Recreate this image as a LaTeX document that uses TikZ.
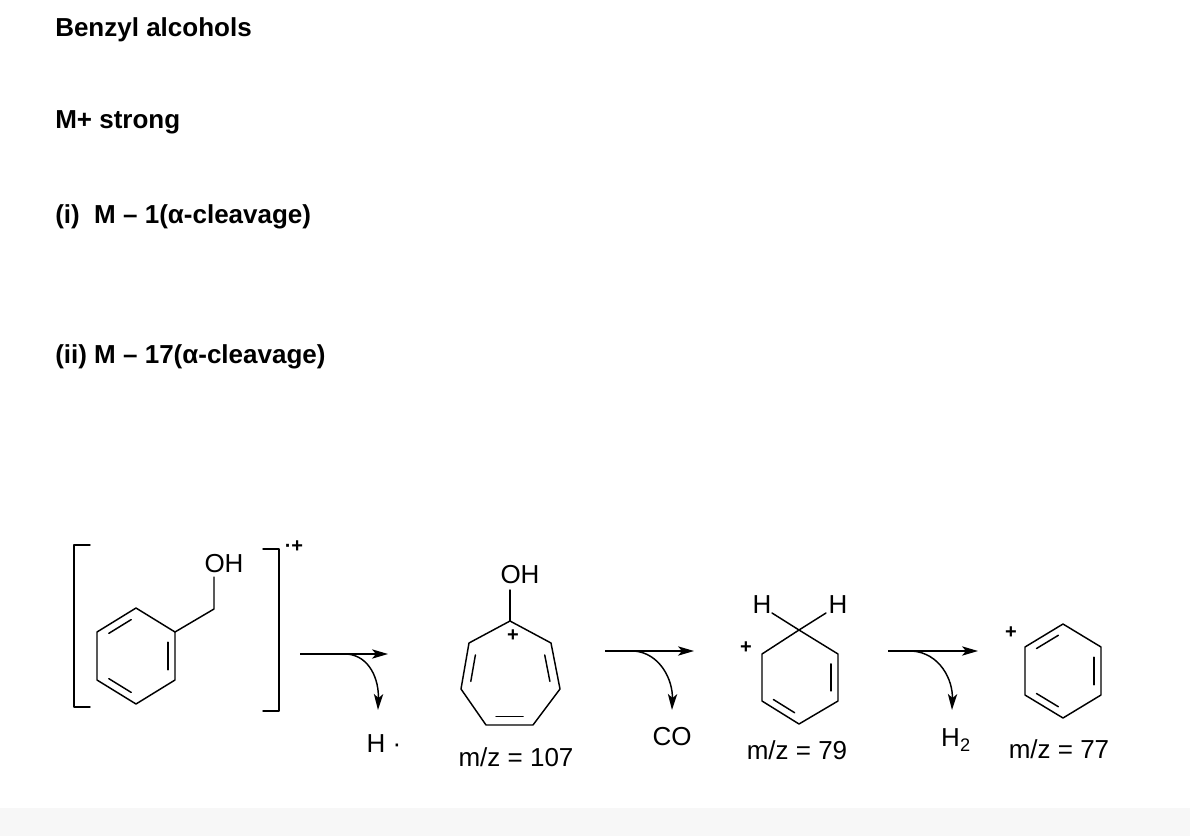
\documentclass[tikz,border=0pt]{standalone}
\usepackage{fontspec}
\setmainfont{Liberation Sans}
\usetikzlibrary{arrows.meta,calc}
\begin{document}
\begin{tikzpicture}[x=0.75pt,y=-0.75pt,
  bond/.style={line width=1.1pt,line join=round,line cap=round},
  lbl/.style={font=\fontsize{19.5}{22}\selectfont,inner sep=0pt},
  head/.style={font=\fontsize{19.5}{22}\selectfont\bfseries,inner sep=0pt,anchor=west},
  pl/.style={font=\fontsize{15}{17}\selectfont\bfseries,inner sep=0pt},
  rxn/.style={line width=1.1pt,-{Stealth[length=12pt,width=7pt,inset=3pt]}}]
\useasboundingbox (0,0) rectangle (1190,836);
\fill[white] (0,0) rectangle (1190,808);
\fill[black!3] (0,808) rectangle (1190,836);
% headings
\node[head] (h1) at (55,30) {Benzyl alcohols};
\node[head] (h2) at (55,122) {M+ strong};
\node[head] (h3) at (55,217) {(i)\ \ M – 1(α-cleavage)};
\node[head] (h4) at (55,357) {(ii) M – 17(α-cleavage)};
% brackets
\draw[bond] (90,545) -- (74,545) -- (74,707) -- (90,707);
\draw[bond] (263,549) -- (279,549) -- (279,711) -- (263,711);
\node[pl] (rc) at (294,547) {·+};
% benzyl alcohol
\coordinate (a1) at (136,608); \coordinate (a2) at (175,632); \coordinate (a3) at (175,680);
\coordinate (a4) at (136,704); \coordinate (a5) at (97,680); \coordinate (a6) at (97,632);
\coordinate (ac) at (136,656);
\draw[bond] (a1)--(a2)--(a3)--(a4)--(a5)--(a6)--cycle;
\draw[bond] ($(a1)!0.15!(a6)!0.18!(ac)$) -- ($(a6)!0.15!(a1)!0.18!(ac)$);
\draw[bond] ($(a2)!0.15!(a3)!0.18!(ac)$) -- ($(a3)!0.15!(a2)!0.18!(ac)$);
\draw[bond] ($(a4)!0.15!(a5)!0.18!(ac)$) -- ($(a5)!0.15!(a4)!0.18!(ac)$);
\node[lbl] (oh1) at (224,564) {OH};
\draw[bond] (a2) -- (214,609) -- (214,577);
% arrow 1
\coordinate (s1) at (300,654); \coordinate (e1) at (388,654); \coordinate (c1) at (347,654);
\draw[rxn] (s1) -- (e1);
\draw[rxn] (c1) .. controls (370,656) and (379,680) .. (378,710);
\node[lbl] (hdot) at (384,744) {H ·};
% tropylium
\coordinate (t1) at (510,621); \coordinate (t2) at (551,643); \coordinate (t3) at (560,689);
\coordinate (t4) at (533,725); \coordinate (t5) at (486,725); \coordinate (t6) at (461,689);
\coordinate (t7) at (469,643); \coordinate (tc) at (510,678);
\draw[bond] (t1)--(t2)--(t3)--(t4)--(t5)--(t6)--(t7)--cycle;
\draw[bond] ($(t7)!0.15!(t6)!0.18!(tc)$) -- ($(t6)!0.15!(t7)!0.18!(tc)$);
\draw[bond] ($(t2)!0.15!(t3)!0.18!(tc)$) -- ($(t3)!0.15!(t2)!0.18!(tc)$);
\draw[bond] ($(t4)!0.15!(t5)!0.18!(tc)$) -- ($(t5)!0.15!(t4)!0.18!(tc)$);
\node[lbl] (oh2) at (520,575) {OH};
\draw[bond] (t1) -- (510,590);
\node[pl] (p1) at (513,636) {+};
\node[lbl] (m1) at (516,757) {m/z = 107};
% arrow 2
\coordinate (s2) at (605,651); \coordinate (e2) at (694,651); \coordinate (c2) at (634,651);
\draw[rxn] (s2) -- (e2);
\draw[rxn] (c2) .. controls (660,653) and (673,680) .. (672,710);
\node[lbl] (co) at (672,737) {CO};
% cyclohexadienyl
\coordinate (b1) at (799,630); \coordinate (b2) at (838,654); \coordinate (b3) at (838,701);
\coordinate (b4) at (799,724); \coordinate (b5) at (762,701); \coordinate (b6) at (762,654);
\coordinate (bc) at (800,677);
\draw[bond] (b1)--(b2)--(b3)--(b4)--(b5)--(b6)--cycle;
\draw[bond] ($(b2)!0.15!(b3)!0.18!(bc)$) -- ($(b3)!0.15!(b2)!0.18!(bc)$);
\draw[bond] ($(b4)!0.15!(b5)!0.18!(bc)$) -- ($(b5)!0.15!(b4)!0.18!(bc)$);
\node[lbl] (hA) at (762,605) {H};
\node[lbl] (hB) at (838,605) {H};
\draw[bond] (b1) -- (772,613);
\draw[bond] (b1) -- (826,613);
\node[pl] (p2) at (746,648) {+};
\node[lbl] (m2) at (797,750) {m/z = 79};
% arrow 3
\coordinate (s3) at (888,651); \coordinate (e3) at (978,651); \coordinate (c3) at (912,651);
\draw[rxn] (s3) -- (e3);
\draw[rxn] (c3) .. controls (940,653) and (953,680) .. (952,710);
\node[lbl] (h2m) at (956,740) {H\textsubscript{2}};
% phenyl cation
\coordinate (d1) at (1063,624); \coordinate (d2) at (1101,647); \coordinate (d3) at (1101,695);
\coordinate (d4) at (1063,718); \coordinate (d5) at (1025,695); \coordinate (d6) at (1025,647);
\coordinate (dc) at (1063,671);
\draw[bond] (d1)--(d2)--(d3)--(d4)--(d5)--(d6)--cycle;
\draw[bond] ($(d1)!0.15!(d6)!0.18!(dc)$) -- ($(d6)!0.15!(d1)!0.18!(dc)$);
\draw[bond] ($(d2)!0.15!(d3)!0.18!(dc)$) -- ($(d3)!0.15!(d2)!0.18!(dc)$);
\draw[bond] ($(d4)!0.15!(d5)!0.18!(dc)$) -- ($(d5)!0.15!(d4)!0.18!(dc)$);
\node[pl] (p3) at (1011,633) {+};
\node[lbl] (m3) at (1059,749) {m/z = 77};
\end{tikzpicture}
\end{document}
